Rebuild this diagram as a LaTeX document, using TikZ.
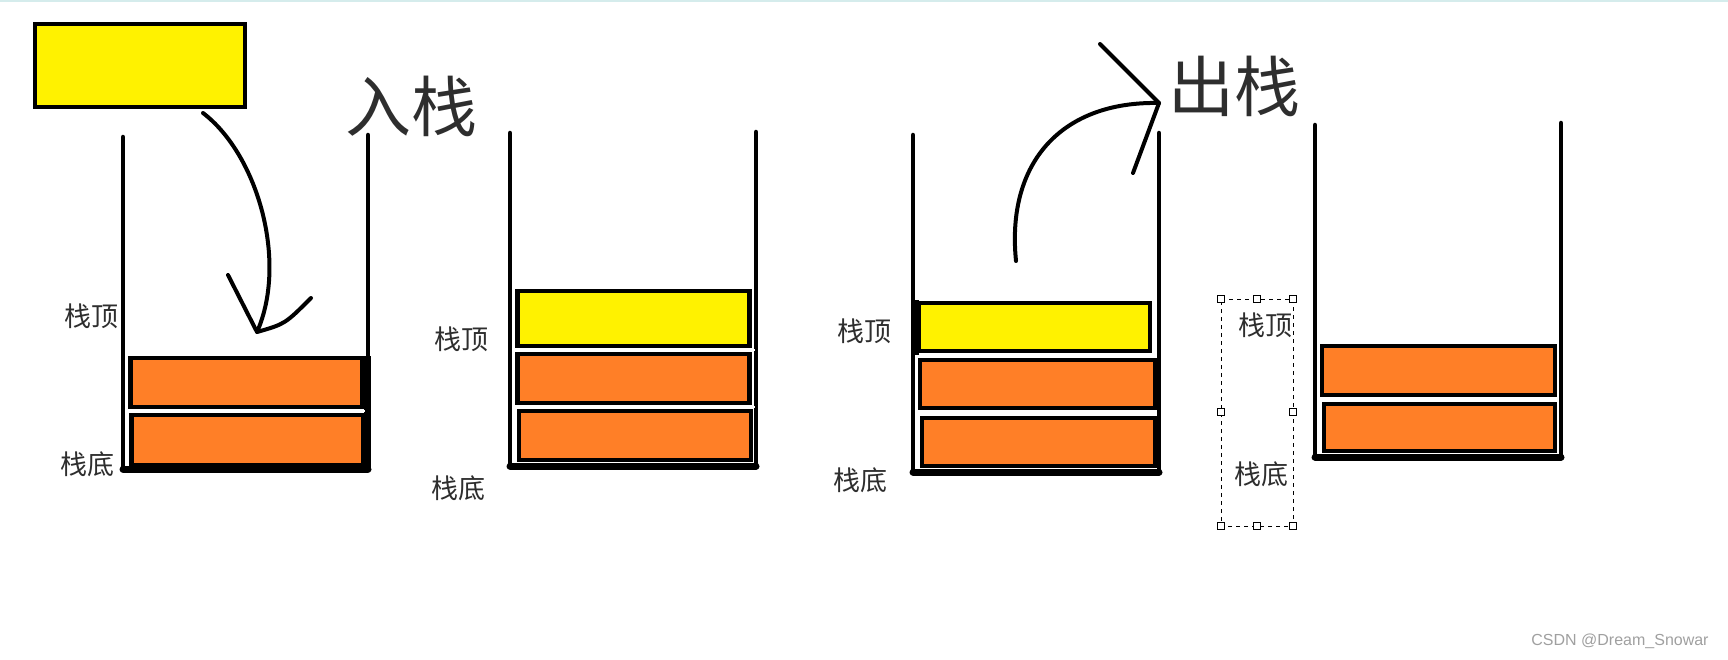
\documentclass[tikz,border=0pt]{standalone}
\usepackage{fontspec}
\newfontfamily\cjk{Noto Sans CJK SC}
\setsansfont{Liberation Sans}
\definecolor{pyellow}{HTML}{FFF200}
\definecolor{porange}{HTML}{FF7F27}
\definecolor{txt}{HTML}{2E2E2E}
\definecolor{wm}{HTML}{A0A0A0}
\definecolor{topline}{HTML}{D5ECEC}
\begin{document}
\begin{tikzpicture}[x=1pt,y=-1pt,
  wall/.style={line width=4.5pt,line cap=round},
  floor/.style={line width=7pt,line cap=round},
  blk/.style={draw=black,line width=4.5pt,inner sep=0pt,outer sep=0pt,minimum width=232pt},
  ybox/.style={blk,fill=pyellow},
  obox/.style={blk,fill=porange},
  gap/.style={white,line width=1.6pt},
  lbl/.style={font=\cjk\fontsize{27}{27}\selectfont,text=txt,inner sep=0pt},
  big/.style={font=\cjk\fontsize{66}{66}\selectfont,text=txt,inner sep=0pt},
  hand/.style={line width=4pt,line cap=round,line join=round},
  handle/.style={draw=black,fill=white,line width=1pt,minimum size=7pt,inner sep=0pt},
  sel/.style={dashed,line width=1pt,dash pattern=on 4pt off 4pt}
]
\useasboundingbox (0,0) rectangle (1728,660);
\fill[white] (0,0) rectangle (1728,660);
\draw[topline,line width=2pt] (0,1) -- (1728,1);

% ---- incoming yellow block
\node[ybox,minimum width=210pt,minimum height=83pt] (newblk) at (140,65.5) {};

% ---- stack 1
\coordinate (s1tl) at (123,137); \coordinate (s1bl) at (123,469);
\coordinate (s1tr) at (368,135); \coordinate (s1br) at (368,469);
\draw[wall] (s1tl) -- (s1bl);
\draw[wall] (s1tr) -- (s1br);
\draw[line width=7pt] (367,356) -- (367,469);
\node[obox,minimum height=49pt] (s1a) at (246.5,382.5) {};
\node[obox,minimum height=50pt] (s1b) at (247.5,440) {};
\draw[floor] (s1bl) -- (s1br);
\draw[gap] (125,411) -- (365,411);
\node[lbl] (s1top) at (91,316) {栈顶};
\node[lbl] (s1bot) at (87,464) {栈底};

% push arrow
\coordinate (p0) at (203,113);
\coordinate (p1) at (257,332);
\coordinate (pa) at (228,275);
\coordinate (pb) at (311,298);
\draw[hand] (p0) .. controls (258,155) and (288,262) .. (p1);
\draw[hand] (pa) -- (p1) .. controls (285,324) .. (pb);
\node[big] (push) at (411,106) {入栈};

% ---- stack 2
\coordinate (s2tl) at (510,133); \coordinate (s2bl) at (510,466);
\coordinate (s2tr) at (756,132); \coordinate (s2br) at (756,466);
\draw[wall] (s2tl) -- (s2bl);
\draw[wall] (s2tr) -- (s2br);
\node[ybox,minimum height=55pt] (s2a) at (633.5,318.5) {};
\node[obox,minimum height=49pt] (s2b) at (633.5,378.5) {};
\node[obox,minimum height=49pt] (s2c) at (635,435.5) {};
\draw[floor] (s2bl) -- (s2br);
\draw[gap] (512,350) -- (755,350);
\draw[gap] (512,407) -- (755,407);
\node[lbl] (s2top) at (461,339) {栈顶};
\node[lbl] (s2bot) at (458,488) {栈底};

% ---- stack 3
\coordinate (s3tl) at (913,135); \coordinate (s3bl) at (913,472);
\coordinate (s3tr) at (1159,133); \coordinate (s3br) at (1159,472);
\draw[wall] (s3tl) -- (s3bl);
\draw[wall] (s3tr) -- (s3br);
\draw[line width=7pt] (915,300) -- (915,355);
\node[ybox,minimum width=231pt,minimum height=48pt] (s3a) at (1034.5,327) {};
\node[obox,minimum width=235pt,minimum height=48pt] (s3b) at (1037.5,384) {};
\node[obox,minimum width=233pt,minimum height=48pt] (s3c) at (1038.5,442) {};
\draw[floor] (s3bl) -- (s3br);
\draw[gap] (916,356) -- (1157,356);
\draw[gap] (916,413) -- (1157,413);
\node[lbl] (s3top) at (864,331) {栈顶};
\node[lbl] (s3bot) at (860,480) {栈底};

% pop arrow
\coordinate (q0) at (1016,261);
\coordinate (q1) at (1159,103);
\coordinate (qa) at (1100,44);
\coordinate (qb) at (1133,173);
\draw[hand] (q0) .. controls (1006,162) and (1062,101) .. (q1);
\draw[hand] (qa) -- (q1) -- (qb);
\node[big] (pop) at (1234,86) {出栈};

% ---- selection box with labels
\coordinate (c1) at (1221,299); \coordinate (c2) at (1293,299);
\coordinate (c3) at (1293,526); \coordinate (c4) at (1221,526);
\draw[sel] (c1) -- (c2) -- (c3) -- (c4) -- cycle;
\node[handle] (h1) at (c1) {};
\node[handle] (h2) at (1257,299) {};
\node[handle] (h3) at (c2) {};
\node[handle] (h4) at (1221,412) {};
\node[handle] (h5) at (1293,412) {};
\node[handle] (h6) at (c4) {};
\node[handle] (h7) at (1257,526) {};
\node[handle] (h8) at (c3) {};
\node[lbl] (s4top) at (1265,325) {栈顶};
\node[lbl] (s4bot) at (1261,474) {栈底};

% ---- stack 4
\coordinate (s4tl) at (1315,125); \coordinate (s4bl) at (1315,457);
\coordinate (s4tr) at (1561,123); \coordinate (s4br) at (1561,457);
\draw[wall] (s4tl) -- (s4bl);
\draw[wall] (s4tr) -- (s4br);
\node[obox,minimum width=233pt,minimum height=49pt] (s4a) at (1438.5,370.5) {};
\node[obox,minimum width=231pt,minimum height=47pt] (s4b) at (1439.5,427.5) {};
\draw[floor] (s4bl) -- (s4br);
\draw[gap] (1318,399.5) -- (1559,399.5);

% watermark
\node[font=\sffamily\fontsize{16}{16}\selectfont,text=wm,inner sep=0pt] (wmark) at (1620,641) {CSDN @Dream\_Snowar};
\end{tikzpicture}
\end{document}
